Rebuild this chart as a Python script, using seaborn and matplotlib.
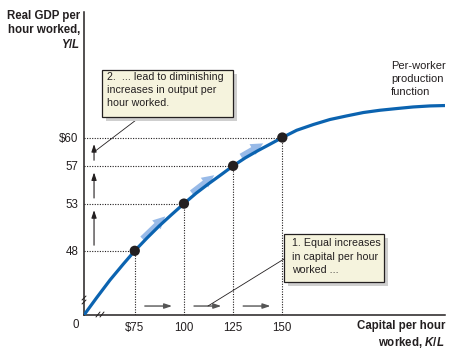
import matplotlib
matplotlib.use("Agg")
import matplotlib.pyplot as plt
import seaborn as sns
import pandas as pd
from matplotlib.patches import Rectangle

# values
capital = [75, 100, 125, 150]
output = [48, 53, 57, 60]
x_tick_labels = ["$75", "100", "125", "150"]
y_tick_labels = ["48", "53", "57", "$60"]

curve_k = [49.2, 55.7, 62.4, 69.2, 75, 81.2, 87.5, 93.8, 100, 106.2, 112.5, 118.8,
           125, 131.2, 137.5, 143.8, 150, 157.3, 165.8, 174.2, 182.7, 191.2,
           199.6, 208.1, 216.5, 225.1, 232.7]
curve_y = [41.2, 43.05, 44.9, 46.6, 48, 49.35, 50.65, 51.85, 53, 54.1, 55.1, 56.05,
           57, 57.85, 58.6, 59.3, 60, 60.77, 61.38, 61.91, 62.29, 62.65,
           62.89, 63.07, 63.24, 63.35, 63.39]

W, H = 457, 358
INK = "#231f20"
BLUE = "#0b63b0"

sns.set_style("white")
plt.rcParams["font.family"] = ["Liberation Sans", "DejaVu Sans"]
plt.rcParams["mathtext.fontset"] = "custom"
plt.rcParams["mathtext.it"] = "Liberation Sans:bold:italic"
plt.rcParams["mathtext.rm"] = "Liberation Sans:bold"


def fxy(x, y):
    # pixel position -> figure fraction
    return (x / W, 1 - y / H)


fig = plt.figure(figsize=(W / 100, H / 100), dpi=100)
ax = fig.add_axes([84 / W, 1 - 315 / H, (445 - 84) / W, (315 - 12) / H])

curve = pd.DataFrame({"k": curve_k, "y": curve_y})
pts = pd.DataFrame({"k": capital, "y": output})

ax.set_xlim(curve_k[0], curve_k[-1])
ax.set_ylim(curve_y[0], 73.3)

# dotted guides
for k, y in zip(capital, output):
    ax.plot([curve_k[0], k], [y, y], color=INK, lw=0.8, ls=(0, (1, 1.3)), zorder=1)
    ax.plot([k, k], [curve_y[0], y], color=INK, lw=0.8, ls=(0, (1, 1.3)), zorder=1)

# light blue movement arrows along the curve
for i in range(len(capital) - 1):
    k0, k1 = capital[i], capital[i + 1]
    y0, y1 = output[i], output[i + 1]
    s = (k0 + 0.11 * (k1 - k0), y0 + 0.11 * (y1 - y0) + 0.55)
    e = (k0 + 0.66 * (k1 - k0), y0 + 0.66 * (y1 - y0) + 0.55)
    ax.annotate("", xy=e, xytext=s,
                arrowprops=dict(arrowstyle="simple,head_width=0.8,head_length=0.8,tail_width=0.35",
                                mutation_scale=11, color="#8db3e6", alpha=0.9, lw=0),
                zorder=2)

sns.lineplot(data=curve, x="k", y="y", sort=False, estimator=None,
             color=BLUE, lw=2.3, ax=ax, zorder=3)
ax.lines[-1].set_solid_joinstyle("round")
ax.lines[-1].set_solid_capstyle("butt")
sns.scatterplot(data=pts, x="k", y="y", color=INK, s=55, edgecolor="none",
                ax=ax, zorder=4)

# step arrows along the axes
for i in range(len(capital) - 1):
    ax.annotate("", xy=(54.3, output[i + 1] - 0.4), xytext=(54.3, output[i] + 0.3),
                arrowprops=dict(arrowstyle="-|>,head_width=0.15,head_length=0.45",
                                color=INK, lw=0.8))
    ax.annotate("", xy=(capital[i + 1] - 4.6, 42.15), xytext=(capital[i] + 3.7, 42.15),
                arrowprops=dict(arrowstyle="-|>,head_width=0.15,head_length=0.45",
                                color="#555555", lw=1.0))

sns.despine(ax=ax)
for sp in ["left", "bottom"]:
    ax.spines[sp].set_color(INK)
    ax.spines[sp].set_linewidth(1.1)

ax.set_xticks(capital)
ax.set_xticklabels(x_tick_labels)
ax.set_yticks(output)
ax.set_yticklabels(y_tick_labels)
ax.tick_params(length=0, labelsize=8.3, colors=INK, pad=4)
ax.tick_params(axis="x", pad=5)
ax.set_xlabel("")
ax.set_ylabel("")

# axis break marks
for dx in (0, 4):
    fig.lines.append(plt.Line2D([(96 + dx) / W, (100 + dx) / W],
                                [1 - 317 / H, 1 - 312 / H], color=INK, lw=0.7,
                                transform=fig.transFigure))
    fig.lines.append(plt.Line2D([82 / W, 86 / W],
                                [1 - (300 + dx) / H, 1 - (296 + dx) / H], color=INK, lw=0.7,
                                transform=fig.transFigure))

fig.text(*fxy(76, 325), "0", ha="center", va="center", fontsize=8.3, color=INK)

# axis titles
fig.text(*fxy(80, 10), "Real GDP per\nhour worked,\n$Y/L$", ha="right", va="top",
         fontsize=8.3, fontweight="bold", color=INK, linespacing=1.2)
fig.text(*fxy(445, 320), "Capital per hour\nworked, $K/L$", ha="right", va="top",
         fontsize=8.3, fontweight="bold", color=INK, linespacing=1.25)
fig.text(*fxy(391, 61), "Per-worker\nproduction\nfunction", ha="left", va="top",
         fontsize=8, color=INK, linespacing=1.38)


def callout(x0, y0, x1, y1, txt, tx, ty):
    fig.patches.append(Rectangle(fxy(x0 + 4, y1 + 4), (x1 - x0) / W, (y1 - y0) / H,
                                 transform=fig.transFigure, facecolor="#cfcfcf",
                                 edgecolor="none", zorder=5))
    fig.patches.append(Rectangle(fxy(x0, y1), (x1 - x0) / W, (y1 - y0) / H,
                                 transform=fig.transFigure, facecolor="#f5f3dd",
                                 edgecolor=INK, lw=0.9, zorder=6))
    fig.text(*fxy(tx, ty), txt, ha="left", va="top", fontsize=7.7, color=INK,
             linespacing=1.38, zorder=7)


callout(102, 70, 233, 117, "2.  ... lead to diminishing\nincreases in output per\nhour worked.", 107, 71.5)
callout(284, 234, 384, 282, "1. Equal increases\nin capital per hour\nworked ...", 292, 238.5)

fig.lines.append(plt.Line2D([140 / W, 94 / W], [1 - 117 / H, 1 - 152 / H], color=INK,
                            lw=0.6, transform=fig.transFigure))
fig.lines.append(plt.Line2D([284 / W, 208 / W], [1 - 259 / H, 1 - 306 / H], color=INK,
                            lw=0.6, transform=fig.transFigure))

fig.savefig("out.png", dpi=100)
